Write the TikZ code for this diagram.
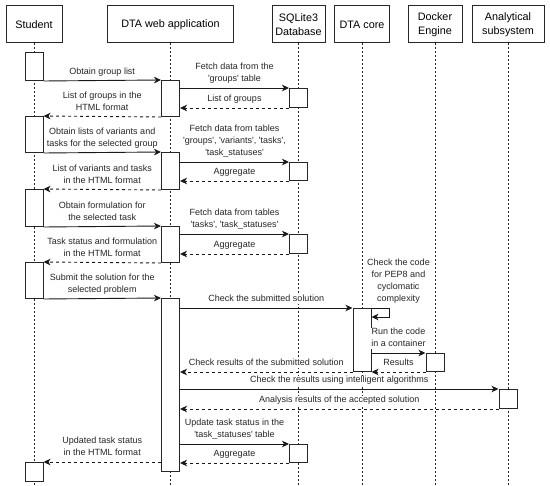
\documentclass[tikz,border=0pt]{standalone}
\usepackage{fontspec}
\setmainfont{Liberation Sans}
\usetikzlibrary{arrows.meta,positioning,calc}
\tikzset{
  head/.style={draw=black!85,line width=1pt,fill=white,align=center,
               font=\fontsize{10.8}{14}\selectfont,minimum height=37pt,inner sep=1pt},
  act/.style={draw=black!85,line width=1pt,fill=white,minimum width=18pt,
              anchor=north,inner sep=0pt},
  life/.style={black!85,line width=1pt,dash pattern=on 2pt off 2pt},
  msg/.style={-{Stealth[length=7pt,width=6.5pt,inset=2pt]},line width=0.9pt,black!90},
  ret/.style={msg,dash pattern=on 3pt off 3pt},
  lbl/.style={font=\fontsize{9}{12}\selectfont,align=center,text depth=2pt,fill=white,
              inner sep=0pt,anchor=south,yshift=4pt,text=black!85},
}
\newcommand\sq[1]{\textquotesingle#1\textquotesingle}

\begin{document}
\begin{tikzpicture}[x=1pt,y=-1pt]
  \fill[white] (0,0) rectangle (550,486);
  \useasboundingbox (0,0) rectangle (550,486);
  \coordinate (bot) at (0,485);

  % participants
  \node[head,minimum width=56pt]  (stu)  at (34,24.5)    {Student};
  \node[head,minimum width=126pt] (web)  at (170.5,24.5) {DTA web application};
  \node[head,minimum width=53pt]  (db)   at (298.5,24.5) {SQLite3\\Database};
  \node[head,minimum width=55pt]  (core) at (362,24.5)   {DTA core};
  \node[head,minimum width=54pt]  (dock) at (435,24.5)   {Docker\\Engine};
  \node[head,minimum width=72pt]  (ana)  at (508,24.5)   {Analytical\\subsystem};
  \foreach \h in {stu,web,db,core,dock,ana}
    \draw[life] (\h.south) -- (\h.south |- bot);

  % activation boxes
  \foreach \n/\h/\t/\len in {s1/stu/52/28, s2/stu/116/36, s3/stu/189/37, s4/stu/262/36, s5/stu/462/19,
                            w1/web/80/36, w2/web/152/37, w3/web/226/36, w4/web/298/173,
                            d1/db/88/19, d2/db/162/18, d3/db/234/19, d4/db/444/18,
                            c1/core/308/63, k1/dock/353/18, a1/ana/389/19}
    \node[act,minimum height=\len pt] (\n) at (\h |- 0,\t) {};

  % group list
  \draw[msg] (s1.south east) -- node[lbl] {Obtain group list} (w1.north west);
  \draw[msg] (w1.east |- d1.north) -- node[lbl] {Fetch data from the\\\sq{groups} table} (d1.north west);
  \draw[ret] (d1.south west) -- node[lbl] {List of groups} (w1.east |- d1.south);
  \draw[ret] (w1.south west) -- node[lbl] {List of groups in the\\HTML format} (s2.north east);

  % variants and tasks
  \draw[msg] (s2.south east) -- node[lbl] {Obtain lists of variants and\\tasks for the selected group} (w2.north west);
  \draw[msg] (w2.east |- d2.north) -- node[lbl] {Fetch data from tables\\\sq{groups}, \sq{variants}, \sq{tasks},\\\sq{task\_statuses}} (d2.north west);
  \draw[ret] (d2.south west) -- node[lbl] {Aggregate} (w2.east |- d2.south);
  \draw[ret] (w2.south west) -- node[lbl] {List of variants and tasks\\in the HTML format} (s3.north east);

  % formulation
  \draw[msg] (s3.south east) -- node[lbl] {Obtain formulation for\\the selected task} (w3.north west);
  \draw[msg] (w3.east |- d3.north) -- node[lbl] {Fetch data from tables\\\sq{tasks}, \sq{task\_statuses}} (d3.north west);
  \draw[ret] (d3.south west) -- node[lbl] {Aggregate} (w3.east |- d3.south);
  \draw[ret] (w3.south west) -- node[lbl] {Task status and formulation\\in the HTML format} (s4.north east);

  % solution check
  \draw[msg] (s4.south east) -- node[lbl] {Submit the solution for the\\selected problem} (w4.north west);
  \draw[msg] (w4.east |- c1.north) -- node[lbl] {Check the submitted solution} (c1.north west);
  \draw[msg] (c1.north east) -- ++(18,0) |- ([yshift=-9pt]c1.north east);
  \node[lbl] (pep) at ([xshift=27pt]c1.north east) {Check the code\\for PEP8 and\\cyclomatic\\complexity};
  \draw[msg] (c1.east |- k1.north) -- node[lbl] {Run the code\\in a container} (k1.north west);
  \draw[ret] (k1.south west) -- node[lbl] {Results} (c1.south east);
  \draw[ret] (c1.south west) -- node[lbl] {Check results of the submitted solution} (w4.east |- c1.south);
  \draw[msg] (w4.east |- a1.north) -- node[lbl] {Check the results using intelligent algorithms} (a1.north west);
  \draw[ret] (a1.south west) -- node[lbl] {Analysis results of the accepted solution} (w4.east |- a1.south);

  % status update
  \draw[msg] (w4.east |- d4.north) -- node[lbl] {Update task status in the\\\sq{task\_statuses} table} (d4.north west);
  \draw[ret] (d4.south west) -- node[lbl] {Aggregate} (w4.east |- d4.south);
  \draw[ret] (w4.west |- s5.north) -- node[lbl] {Updated task status\\in the HTML format} (s5.north east);
\end{tikzpicture}
\end{document}
